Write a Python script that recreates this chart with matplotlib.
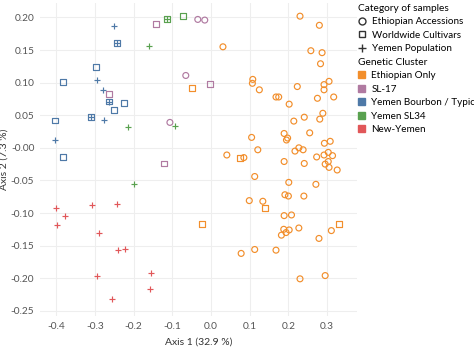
import matplotlib.pyplot as plt
from matplotlib.lines import Line2D
from matplotlib.patches import Patch

plt.rcParams['font.family'] = ['Lato', 'DejaVu Sans']

# colours of the genetic clusters
c_eth = '#F28E2B'
c_sl17 = '#B07AA1'
c_bourbon = '#4E79A7'
c_sl34 = '#59A14F'
c_new = '#E15759'

# Ethiopian Only
eth_circ_x = [0.031, 0.041, 0.085, 0.230, 0.280, 0.258, 0.287, 0.283, 0.108, 0.107, 0.125, 0.223,
              0.292, 0.305, 0.292, 0.168, 0.175, 0.275, 0.317, 0.202, 0.289, 0.241, 0.214, 0.281,
              0.255, 0.189, 0.198, 0.195, 0.105, 0.121, 0.227, 0.238, 0.217, 0.308, 0.293, 0.303,
              0.292, 0.314, 0.273, 0.303, 0.189, 0.241, 0.295, 0.305, 0.326, 0.113, 0.201, 0.271,
              0.191, 0.200, 0.240, 0.099, 0.134, 0.189, 0.208, 0.188, 0.194, 0.182, 0.202, 0.227,
              0.311, 0.279, 0.078, 0.113, 0.168, 0.230, 0.295]
eth_circ_y = [0.155, -0.011, -0.015, 0.202, 0.188, 0.149, 0.146, 0.129, 0.105, 0.099, 0.089, 0.094,
              0.097, 0.102, 0.089, 0.078, 0.078, 0.076, 0.078, 0.067, 0.053, 0.047, 0.041, 0.044,
              0.023, 0.022, 0.015, 0.012, 0.016, -0.003, 0.000, -0.003, -0.005, 0.010, 0.007, -0.007,
              -0.011, -0.012, -0.014, -0.021, -0.021, -0.024, -0.025, -0.030, -0.034, -0.044, -0.053, -0.056,
              -0.072, -0.074, -0.074, -0.081, -0.082, -0.104, -0.103, -0.125, -0.130, -0.134, -0.126, -0.123,
              -0.127, -0.139, -0.162, -0.156, -0.157, -0.201, -0.196]
eth_sq_x = [-0.049, 0.075, 0.140, -0.022, 0.330]
eth_sq_y = [0.092, -0.015, -0.093, -0.117, -0.117]

# SL-17
sl17_circ_x = [-0.034, -0.016, -0.065, -0.106]
sl17_circ_y = [0.197, 0.196, 0.111, 0.039]
sl17_sq_x = [-0.142, -0.002, -0.263, -0.122]
sl17_sq_y = [0.190, 0.098, 0.082, -0.024]

# Yemen Bourbon / Typica
bour_sq_x = [-0.242, -0.310, -0.298, -0.383, -0.264, -0.251, -0.225, -0.403, -0.381]
bour_sq_y = [0.161, 0.047, 0.124, 0.101, 0.071, 0.058, 0.069, 0.042, -0.014]
bour_pl_x = [-0.250, -0.242, -0.310, -0.264, -0.294, -0.278, -0.277, -0.403]
bour_pl_y = [0.187, 0.161, 0.047, 0.071, 0.104, 0.089, 0.043, 0.012]

# Yemen SL34
sl34_sq_x = [-0.113, -0.072]
sl34_sq_y = [0.198, 0.202]
sl34_pl_x = [-0.113, -0.160, -0.213, -0.093, -0.198]
sl34_pl_y = [0.198, 0.156, 0.032, 0.034, -0.056]

# New-Yemen
new_pl_x = [-0.401, -0.377, -0.397, -0.307, -0.242, -0.289, -0.241, -0.221, -0.154, -0.158, -0.294, -0.255]
new_pl_y = [-0.092, -0.105, -0.119, -0.087, -0.086, -0.130, -0.156, -0.155, -0.192, -0.217, -0.197, -0.232]

fig = plt.figure(figsize=(4.74, 3.48), dpi=100)
ax = fig.add_axes([0.084, 0.092, 0.669, 0.899])

ms = 18
lw = 0.85
ax.scatter(eth_circ_x, eth_circ_y, s=ms, marker='o', facecolors='none', edgecolors=c_eth, linewidths=lw)
ax.scatter(eth_sq_x, eth_sq_y, s=ms, marker='s', facecolors='none', edgecolors=c_eth, linewidths=lw)
ax.scatter(sl17_circ_x, sl17_circ_y, s=ms, marker='o', facecolors='none', edgecolors=c_sl17, linewidths=lw)
ax.scatter(sl17_sq_x, sl17_sq_y, s=ms, marker='s', facecolors='none', edgecolors=c_sl17, linewidths=lw)
ax.scatter(bour_sq_x, bour_sq_y, s=ms, marker='s', facecolors='none', edgecolors=c_bourbon, linewidths=lw)
ax.scatter(bour_pl_x, bour_pl_y, s=22, marker='+', color=c_bourbon, linewidths=lw)
ax.scatter(sl34_sq_x, sl34_sq_y, s=ms, marker='s', facecolors='none', edgecolors=c_sl34, linewidths=lw)
ax.scatter(sl34_pl_x, sl34_pl_y, s=22, marker='+', color=c_sl34, linewidths=lw)
ax.scatter(new_pl_x, new_pl_y, s=22, marker='+', color=c_new, linewidths=lw)

ax.set_xlim(-0.442, 0.377)
ax.set_ylim(-0.258, 0.222)
ax.set_xticks([-0.4, -0.3, -0.2, -0.1, 0.0, 0.1, 0.2, 0.3])
ax.set_xticklabels(['-0.4', '-0.3', '-0.2', '-0.1', '0.0', '0.1', '0.2', '0.3'])
ax.set_yticks([0.20, 0.15, 0.10, 0.05, 0.0, -0.05, -0.10, -0.15, -0.20, -0.25])
ax.set_yticklabels(['0.20', '0.15', '0.10', '0.05', '-0.00', '-0.05', '-0.10', '-0.15', '-0.20', '-0.25'])
ax.grid(True, color='#EEEEEE', linewidth=0.8)
ax.set_axisbelow(True)
for s in ax.spines.values():
    s.set_visible(False)
ax.tick_params(length=0, labelsize=7.3, labelcolor='#555555', pad=4)
ax.set_xlabel('Axis 1 (32.9 %)', fontsize=7.5, color='#333333', labelpad=5)
ax.set_ylabel('Axis 2 (7.3 %)', fontsize=7.5, color='#333333')
ax.yaxis.set_label_coords(-0.098, 0.5)

# legends
h1 = [Line2D([], [], marker='o', ls='none', mfc='none', mec='#333333', ms=5, mew=1),
      Line2D([], [], marker='s', ls='none', mfc='none', mec='#333333', ms=5, mew=1),
      Line2D([], [], marker='+', ls='none', color='#333333', ms=6, mew=1)]
l1 = ['Ethiopian Accessions', 'Worldwide Cultivars', 'Yemen Population']
leg1 = fig.legend(h1, l1, title='Category of samples', loc='upper left', bbox_to_anchor=(0.748, 1.0),
                  frameon=False, fontsize=7.1, title_fontsize=7.3, handlelength=0.8, handletextpad=0.6,
                  labelspacing=0.45, borderaxespad=0.0)
leg1._legend_box.align = 'left'

h2 = [Patch(color=c) for c in [c_eth, c_sl17, c_bourbon, c_sl34, c_new]]
l2 = ['Ethiopian Only', 'SL-17', 'Yemen Bourbon / Typica', 'Yemen SL34', 'New-Yemen']
leg2 = fig.legend(h2, l2, title='Genetic Cluster', loc='upper left', bbox_to_anchor=(0.748, 0.845),
                  frameon=False, fontsize=7.1, title_fontsize=7.3, handlelength=0.7, handleheight=0.7,
                  handletextpad=0.6, labelspacing=0.45, borderaxespad=0.0)
leg2._legend_box.align = 'left'

plt.savefig('out.png', dpi=100)
